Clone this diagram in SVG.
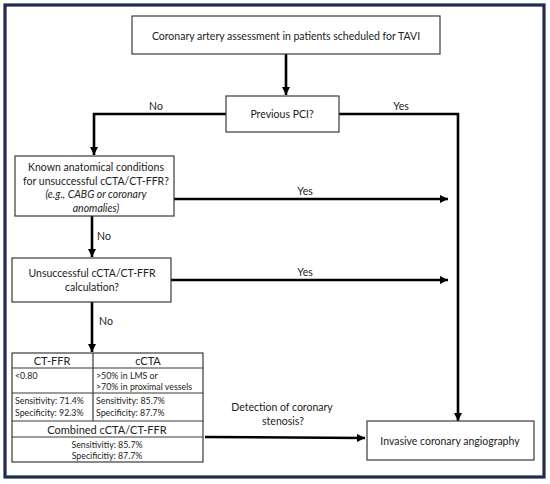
<svg xmlns="http://www.w3.org/2000/svg" width="550" height="484" viewBox="0 0 550 484">
<defs>
<style>
.box{fill:#fff;stroke:#3a3a3a;stroke-width:1.2}
.t{font-family:Lato,"Liberation Sans",sans-serif;font-size:10.5px;fill:#222;text-anchor:middle}
.it{font-style:italic}
.s{font-family:Lato,"Liberation Sans",sans-serif;font-size:8.8px;fill:#222}
.c{text-anchor:middle}
.h{font-family:Lato,"Liberation Sans",sans-serif;font-size:11px;fill:#222;text-anchor:middle}
.ln{fill:none;stroke:#000;stroke-width:2.6}
.tl{stroke:#3a3a3a;stroke-width:1.2;fill:none}
</style>
<marker id="ah" markerWidth="8" markerHeight="8" viewBox="0 0 8 8" refX="8" refY="4" orient="auto" markerUnits="userSpaceOnUse">
<path d="M0,0 L8,4 L0,8 z" fill="#000"/>
</marker>
</defs>
<rect x="0" y="0" width="550" height="484" fill="#fff"/>
<rect id="frame" x="5" y="5" width="539" height="472" fill="#fff" stroke="#1f2b4d" stroke-width="3.2"/>

<g id="connectors">
<line class="ln" x1="286" y1="54" x2="286" y2="95" marker-end="url(#ah)"/>
<polyline class="ln" points="226,114 94,114 94,155" marker-end="url(#ah)"/>
<polyline class="ln" points="339,114 458,114 458,421" marker-end="url(#ah)"/>
<line class="ln" x1="174" y1="199" x2="448" y2="199" marker-end="url(#ah)"/>
<line class="ln" x1="92" y1="216" x2="92" y2="257" marker-end="url(#ah)"/>
<line class="ln" x1="171" y1="280" x2="448" y2="280" marker-end="url(#ah)"/>
<line class="ln" x1="92" y1="302" x2="92" y2="352" marker-end="url(#ah)"/>
<line class="ln" x1="205" y1="437" x2="365" y2="438" marker-end="url(#ah)"/>
<text class="t" x="156" y="110">No</text>
<text class="t" x="401" y="110">Yes</text>
<text class="t" x="305" y="195">Yes</text>
<text class="t" x="104" y="240">No</text>
<text class="t" x="305" y="276">Yes</text>
<text class="t" x="106" y="325">No</text>
<text class="t" x="282" y="411">Detection of coronary</text>
<text class="t" x="283" y="425">stenosis?</text>
</g>

<g id="start">
<rect class="box" x="132" y="16" width="308" height="38"/>
<text class="t" x="286" y="40">Coronary artery assessment in patients scheduled for TAVI</text>
</g>

<g id="pci">
<rect class="box" x="226" y="96" width="113" height="36"/>
<text class="t" x="282" y="118">Previous PCI?</text>
</g>

<g id="anatomical">
<rect class="box" x="15" y="156" width="159" height="60"/>
<text class="t" x="96" y="170.5">Known anatomical conditions</text>
<text class="t" x="96" y="184.5">for unsuccessful cCTA/CT-FFR?</text>
<text class="t it" x="96" y="198">(e.g., CABG or coronary</text>
<text class="t it" x="96" y="212">anomalies)</text>
</g>

<g id="unsuccessful">
<rect class="box" x="12" y="258" width="159" height="44"/>
<text class="t" x="92" y="277">Unsuccessful cCTA/CT-FFR</text>
<text class="t" x="92" y="291">calculation?</text>
</g>

<g id="table">
<rect class="box" x="12" y="353" width="191" height="109"/>
<line class="tl" x1="12" y1="368" x2="203" y2="368"/>
<line class="tl" x1="12" y1="393" x2="203" y2="393"/>
<line class="tl" x1="12" y1="421" x2="203" y2="421"/>
<line class="tl" x1="12" y1="437" x2="203" y2="437"/>
<line class="tl" x1="93" y1="353" x2="93" y2="421"/>
<text class="h" x="52" y="364.5">CT-FFR</text>
<text class="h" x="148" y="364.5">cCTA</text>
<text class="s" x="15" y="378.5">&lt;0.80</text>
<text class="s" x="96" y="378.5">&gt;50% in LMS or</text>
<text class="s" x="96" y="390">&gt;70% in proximal vessels</text>
<text class="s" x="15" y="404">Sensitivity: 71.4%</text>
<text class="s" x="15" y="415.5">Specificity: 92.3%</text>
<text class="s" x="96" y="404">Sensitivity: 85.7%</text>
<text class="s" x="96" y="415.5">Specificity: 87.7%</text>
<text class="h" x="107" y="433.5">Combined cCTA/CT-FFR</text>
<text class="s c" x="107" y="447.5">Sensitivitiy: 85.7%</text>
<text class="s c" x="107" y="458.5">Specificitiy: 87.7%</text>
</g>

<g id="ica">
<rect class="box" x="367" y="421" width="167" height="39"/>
<text class="t" x="450" y="445">Invasive coronary angiography</text>
</g>
</svg>
